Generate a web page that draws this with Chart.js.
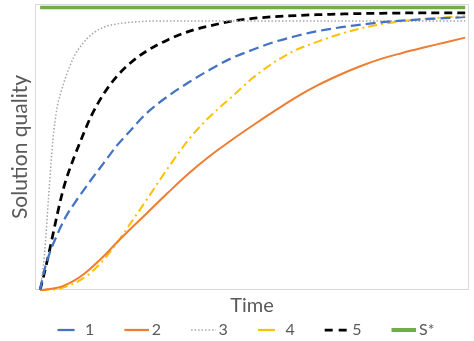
<!DOCTYPE html>
<html>
<head>
<meta charset="utf-8">
<script src="https://cdn.jsdelivr.net/npm/chart.js@4.4.0/dist/chart.umd.min.js"></script>
<style>
  html, body { margin: 0; padding: 0; background: #ffffff; }
  #wrap { width: 474px; height: 341px; position: relative; }
</style>
</head>
<body>
<div id="wrap"><canvas id="c"></canvas></div>
<script>
// ---- data ----
const times = [0, 1, 2, 3, 4, 5, 6, 8, 10, 12, 15, 18, 21, 25, 30, 35, 40, 45, 50, 55, 60, 65, 70, 75, 80, 85, 90, 95, 100];
const series1 = [0, 0.07, 0.12, 0.16, 0.195, 0.228, 0.258, 0.305, 0.348, 0.39, 0.45, 0.51, 0.56, 0.625, 0.685, 0.735, 0.78, 0.82, 0.85, 0.877, 0.898, 0.915, 0.928, 0.938, 0.947, 0.953, 0.958, 0.962, 0.966];
const series2 = [0, 0.001, 0.003, 0.005, 0.008, 0.012, 0.018, 0.033, 0.053, 0.078, 0.12, 0.167, 0.212, 0.27, 0.343, 0.413, 0.475, 0.53, 0.582, 0.632, 0.68, 0.722, 0.758, 0.79, 0.817, 0.838, 0.857, 0.875, 0.893];
const series3 = [0, 0.12, 0.33, 0.53, 0.645, 0.705, 0.752, 0.827, 0.871, 0.903, 0.93, 0.941, 0.947, 0.951, 0.952, 0.952, 0.952, 0.952, 0.952, 0.952, 0.952, 0.952, 0.952, 0.952, 0.952, 0.952, 0.952, 0.952, 0.952];
const series4 = [0, 0, 0.001, 0.002, 0.004, 0.007, 0.011, 0.023, 0.04, 0.062, 0.108, 0.165, 0.23, 0.318, 0.43, 0.533, 0.615, 0.682, 0.75, 0.805, 0.848, 0.877, 0.903, 0.924, 0.94, 0.951, 0.959, 0.964, 0.969];
const series5 = [0, 0.06, 0.125, 0.195, 0.265, 0.33, 0.385, 0.47, 0.545, 0.615, 0.695, 0.755, 0.80, 0.845, 0.885, 0.915, 0.935, 0.951, 0.961, 0.967, 0.971, 0.974, 0.976, 0.978, 0.979, 0.98, 0.981, 0.981, 0.981];
const sStarTimes = [0, 100];
const sStar = [1, 1];
const seriesLabels = ['1', '2', '3', '4', '5', 'S*'];
const axisTitleX = 'Time';
const axisTitleY = 'Solution quality';

// ---- styles ----
const styles = [
  { color: '#4472C4', width: 2.25, dash: [10, 5], legendDash: [17, 10], legendWidth: 2.25 },
  { color: '#ED7D31', width: 2, dash: [], legendDash: [], legendWidth: 2.25 },
  { color: '#A5A5A5', width: 1.5, dash: [1.5, 2], legendDash: [1.5, 2], legendWidth: 1.5 },
  { color: '#FFC000', width: 2, dash: [9, 4, 2, 4], legendDash: [17, 10], legendWidth: 2.25 },
  { color: '#000000', width: 2.75, dash: [8, 5], legendDash: [8, 6], legendWidth: 2.75 },
  { color: '#70AD47', width: 3.5, dash: [], legendDash: [], legendWidth: 4 }
];

function makeSwatch(st) {
  const cv = document.createElement('canvas');
  cv.width = 56; cv.height = 8;
  const g = cv.getContext('2d');
  g.strokeStyle = st.color;
  g.lineWidth = st.legendWidth;
  g.setLineDash(st.legendDash);
  g.beginPath();
  g.moveTo(31, 4);
  g.lineTo(56, 4);
  g.stroke();
  return cv;
}
const swatches = styles.map(makeSwatch);

function pts(xs, ys) { return xs.map((x, i) => ({ x: x, y: ys[i] })); }
const allSeries = [series1, series2, series3, series4, series5];

const datasets = allSeries.map((s, i) => ({
  label: seriesLabels[i],
  data: pts(times, s),
  borderColor: styles[i].color,
  backgroundColor: styles[i].color,
  borderWidth: styles[i].width,
  borderDash: styles[i].dash,
  pointRadius: 0,
  fill: false,
  cubicInterpolationMode: 'monotone',
  clip: false
}));
datasets.push({
  label: seriesLabels[5],
  data: pts(sStarTimes, sStar),
  borderColor: styles[5].color,
  backgroundColor: styles[5].color,
  borderWidth: styles[5].width,
  borderDash: [],
  pointRadius: 0,
  fill: false,
  clip: false
});

const framePlugin = {
  id: 'frame',
  beforeDatasetsDraw(chart) {
    const a = chart.chartArea, ctx = chart.ctx;
    ctx.save();
    ctx.strokeStyle = '#D9D9D9';
    ctx.lineWidth = 1;
    ctx.strokeRect(Math.round(a.left) + 0.5, Math.round(a.top) + 0.5, Math.round(a.right - a.left) - 1, Math.round(a.bottom - a.top) - 1);
    ctx.restore();
  },
  afterUpdate(chart) {
    if (chart.legend) { chart.legend.left -= 5; chart.legend.right -= 5; }
  }
};

new Chart(document.getElementById('c'), {
  type: 'line',
  data: { datasets: datasets },
  options: {
    responsive: true,
    maintainAspectRatio: false,
    animation: false,
    layout: { padding: { left: 7.5, right: 5, top: 4, bottom: -7 } },
    scales: {
      x: {
        type: 'linear',
        min: -1.2, max: 100.9,
        grid: { display: false, drawTicks: false },
        border: { display: false },
        ticks: { display: false },
        title: { display: true, text: axisTitleX, color: '#595959', font: { family: 'Lato', size: 20 }, padding: { top: 3.5, bottom: 0 } }
      },
      y: {
        min: 0, max: 1.012,
        grid: { display: false, drawTicks: false },
        border: { display: false },
        ticks: { display: false },
        title: { display: true, text: axisTitleY, color: '#595959', font: { family: 'Lato', size: 21 }, padding: { top: 0, bottom: 2.3 } }
      }
    },
    plugins: {
      tooltip: { enabled: false },
      legend: {
        position: 'bottom',
        labels: {
          usePointStyle: true,
          pointStyleWidth: 45,
          padding: 4.5,
          color: '#595959',
          font: { family: 'Lato', size: 16 },
          generateLabels(chart) {
            const items = Chart.defaults.plugins.legend.labels.generateLabels(chart);
            items.forEach((it) => { it.pointStyle = swatches[it.datasetIndex]; });
            return items;
          }
        }
      }
    }
  },
  plugins: [framePlugin]
});
</script>
</body>
</html>
